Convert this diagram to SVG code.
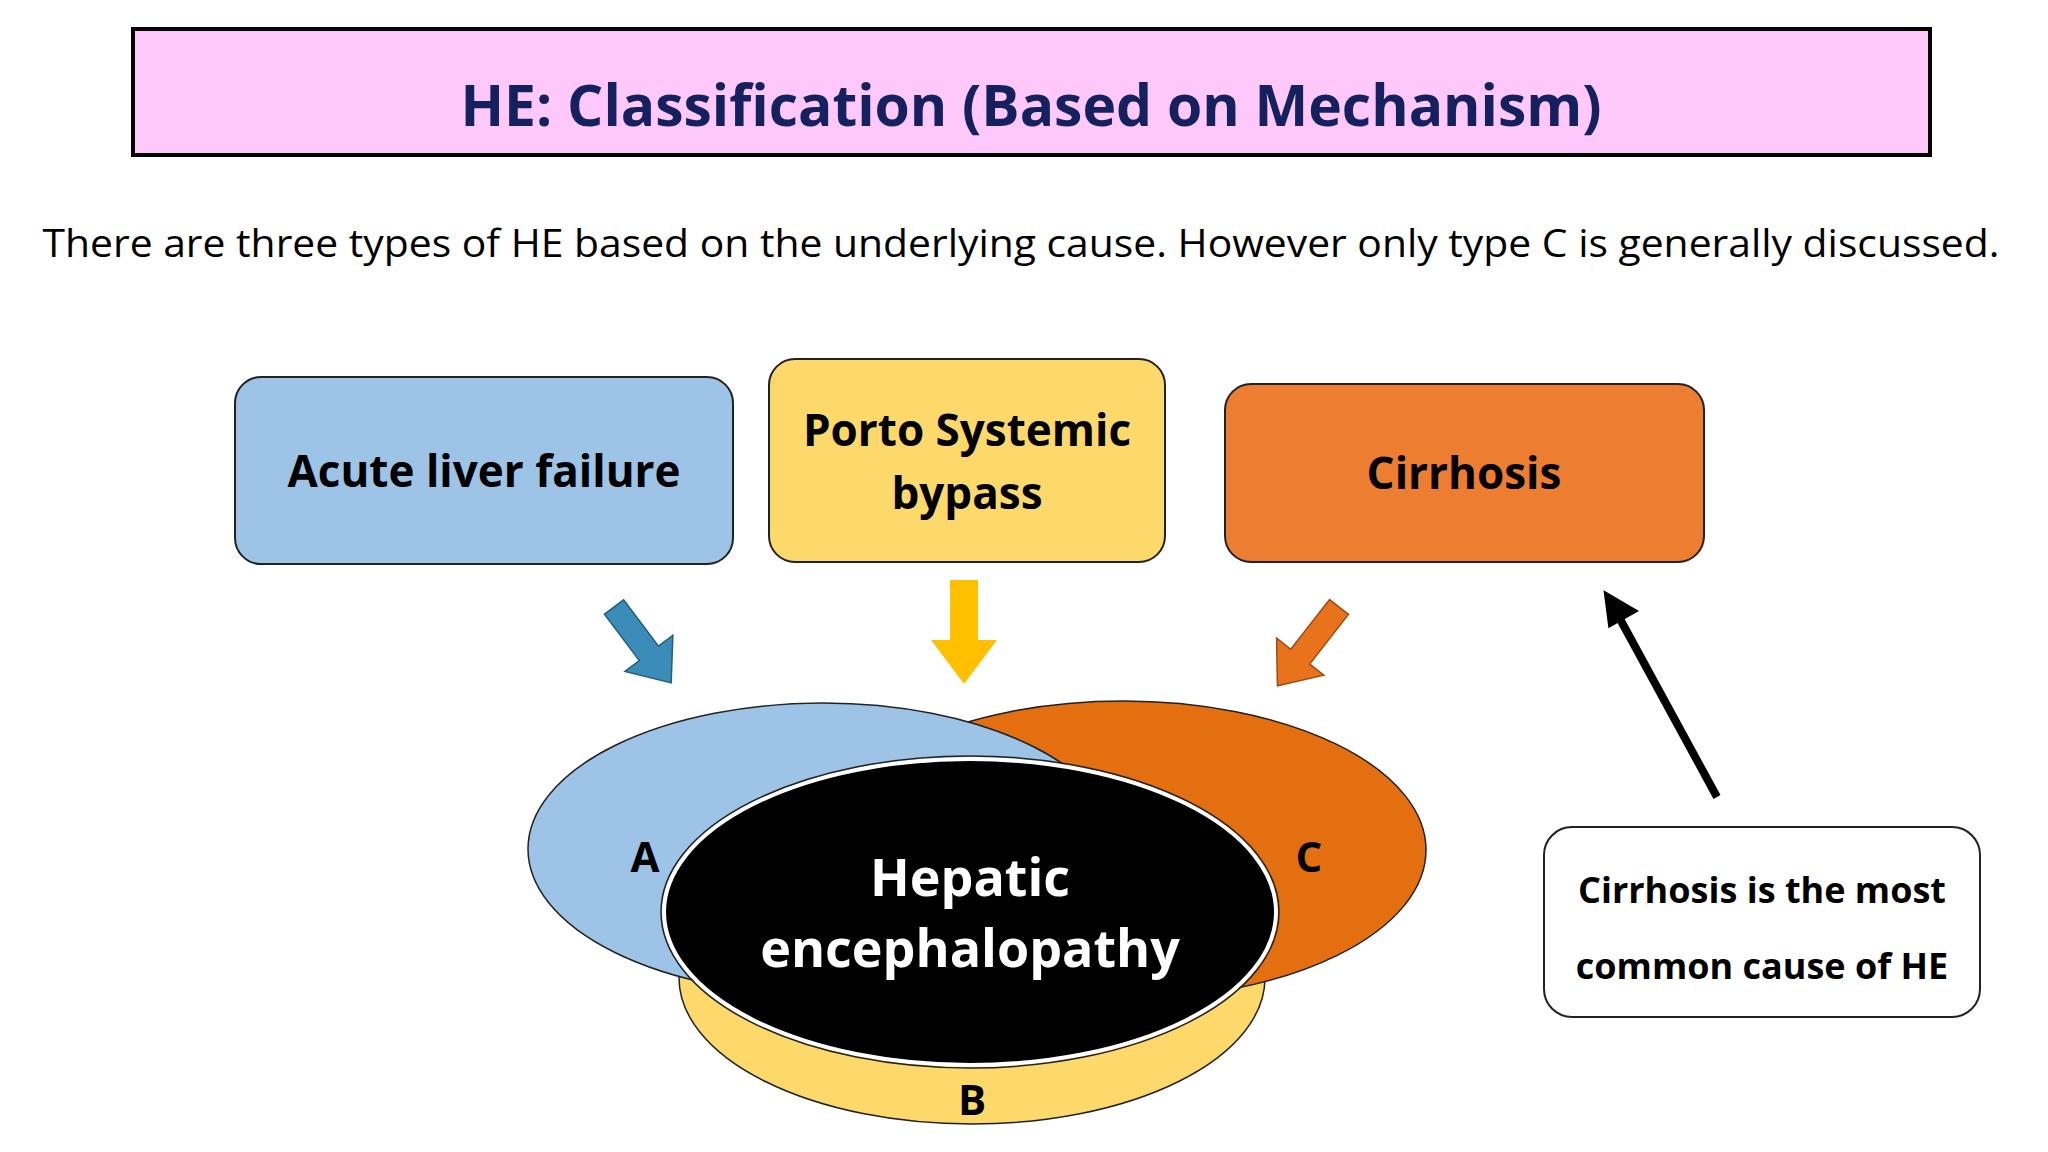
<svg xmlns="http://www.w3.org/2000/svg" width="2048" height="1152" viewBox="0 0 2048 1152">
<style>
text{font-family:"Open Sans","Liberation Sans",sans-serif;font-weight:bold;text-anchor:middle}
.box{stroke:#222;stroke-width:2}
.lbl{font-size:44px;fill:#000}
</style>
<rect width="2048" height="1152" fill="#fff"/>
<g id="title"><rect x="133" y="29" width="1797" height="126" fill="#ffc8fb" stroke="#000" stroke-width="4"/>
<text x="1031" y="126" font-size="57" fill="#14215e" textLength="1141" lengthAdjust="spacingAndGlyphs">HE: Classification (Based on Mechanism)</text></g>
<text id="subtitle" x="1021" y="257" font-size="38" style="font-weight:normal" fill="#000" textLength="1957" lengthAdjust="spacingAndGlyphs">There are three types of HE based on the underlying cause. However only type C is generally discussed.</text>
<g id="acute"><rect class="box" x="235" y="377" width="498" height="187" rx="26" fill="#9dc3e6"/><text class="lbl" x="484" y="487">Acute liver failure</text></g>
<g id="porto"><rect class="box" x="769" y="359" width="396" height="203" rx="26" fill="#fdd96b"/><text class="lbl" x="967" y="446">Porto Systemic</text><text class="lbl" x="967" y="509">bypass</text></g>
<g id="cirrhosis"><rect class="box" x="1225" y="384" width="479" height="178" rx="26" fill="#ed7d31"/><text class="lbl" x="1464" y="489">Cirrhosis</text></g>
<g id="connectors">
<polygon points="0,-12 58,-12 58,-30 95,0 58,30 58,12 0,12" fill="#3b8cb8" stroke="#1f5f80" stroke-width="1.5" transform="translate(614,607) rotate(53)"/>
<polygon points="950,580 978,580 978,640 997,640 964,684 931,640 950,640" fill="#ffc000"/>
<polygon points="0,-12 63,-12 63,-30 100,0 63,30 63,12 0,12" fill="#e8731c" stroke="#a04a10" stroke-width="1.5" transform="translate(1339,607) rotate(128)"/>
<line x1="1717" y1="797" x2="1620" y2="619" stroke="#000" stroke-width="8"/>
<polygon points="1606,594 1635,611 1610,625" fill="#000" stroke="#000" stroke-width="4"/>
</g>
<g id="venn">
<ellipse cx="972" cy="978" rx="293" ry="146" fill="#fdd96b" stroke="#222" stroke-width="1.5"/>
<ellipse cx="1123" cy="850" rx="303" ry="149" fill="#e46f10" stroke="#222" stroke-width="1.5"/>
<ellipse cx="823" cy="849" rx="295" ry="146" fill="#9dc3e6" stroke="#222" stroke-width="1.5"/>
<ellipse cx="970" cy="912" rx="306" ry="153" fill="#000" stroke="#fff" stroke-width="4"/>
<ellipse cx="970" cy="912" rx="309" ry="156" fill="none" stroke="#222" stroke-width="1.5"/>
<text x="645" y="872" font-size="42">A</text>
<text x="1309" y="872" font-size="42">C</text>
<text x="972" y="1115" font-size="42">B</text>
<text x="970" y="896" font-size="52" fill="#fff">Hepatic</text>
<text x="970" y="967" font-size="52" fill="#fff">encephalopathy</text>
</g>
<g id="note"><rect x="1544" y="827" width="436" height="190" rx="28" fill="#fff" stroke="#222" stroke-width="2"/>
<text x="1762" y="903" font-size="36">Cirrhosis is the most</text><text x="1762" y="979" font-size="36">common cause of HE</text></g>
</svg>
